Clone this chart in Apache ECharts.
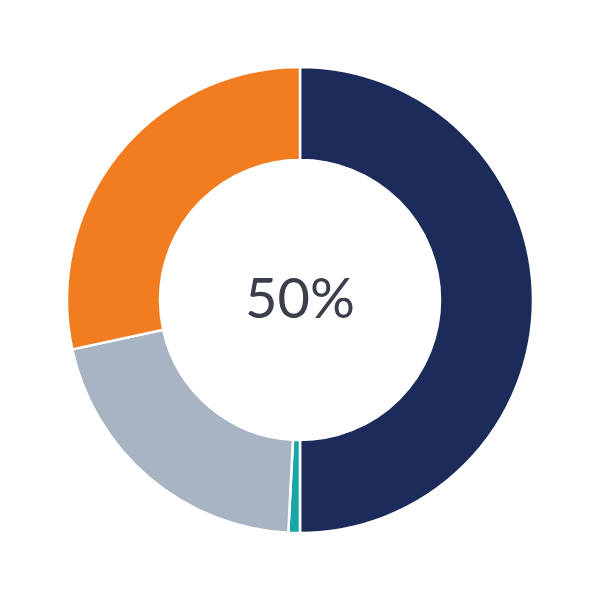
<!DOCTYPE html>
<html>
<head>
<meta charset="utf-8">
<script src="https://cdn.jsdelivr.net/npm/echarts@6/dist/echarts.min.js"></script>
<style>
  html, body { margin: 0; padding: 0; background: #fff; }
  #chart { width: 600px; height: 600px; }
</style>
</head>
<body>
<div id="chart"></div>
<script>
var names = ['Navy', 'Teal', 'Gray', 'Orange'];
var values = [50, 0.8, 20.8, 28.4];
var colors = ['#1c2b5a', '#1aa6a8', '#a9b4c3', '#f27d21'];
var centerLabel = '50%';

var chart = echarts.init(document.getElementById('chart'));

var data = names.map(function (n, i) {
  return { name: n, value: values[i], itemStyle: { color: colors[i] } };
});

chart.setOption({
  animation: false,
  title: {
    text: centerLabel,
    left: 'center',
    top: 'middle',
    textStyle: {
      fontFamily: 'Lato',
      fontWeight: 'normal',
      fontSize: 56,
      color: '#3a3f4b'
    }
  },
  series: [
    {
      type: 'pie',
      center: ['50%', '50%'],
      radius: [140, 233],
      startAngle: 90,
      clockwise: true,
      label: { show: false },
      labelLine: { show: false },
      itemStyle: { borderColor: '#fff', borderWidth: 2.5 },
      data: data
    }
  ]
});
</script>
</body>
</html>
